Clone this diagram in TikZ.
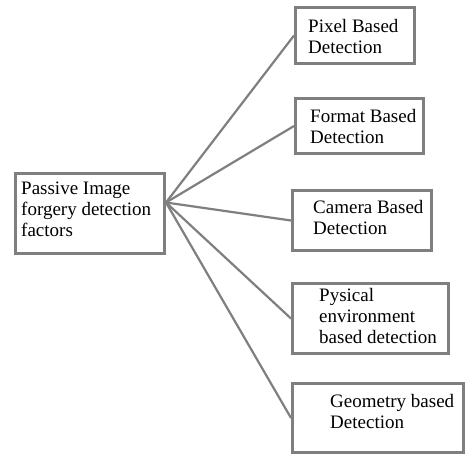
\documentclass[tikz,border=0pt]{standalone}
\usepackage{fontspec}
\setmainfont{Liberation Serif}
\definecolor{boxgray}{HTML}{7F7F7F}
\begin{document}
\begin{tikzpicture}[x=1pt,y=-1pt,
  box/.style={draw=boxgray, line width=3pt, inner sep=0pt, anchor=north west, fill=white},
  txt/.style={inner sep=0pt, anchor=north west, align=left, font=\fontsize{19}{21}\selectfont, text=black},
  link/.style={draw=boxgray, line width=2.2pt}]
\useasboundingbox (0,0) rectangle (474,474);
\node[box, minimum width=149pt, minimum height=80pt] (src) at (14,172) {};
\node[box, minimum width=119pt, minimum height=56pt] (pixel) at (294,6) {};
\node[box, minimum width=128pt, minimum height=55pt] (format) at (294,97) {};
\node[box, minimum width=139pt, minimum height=60pt] (camera) at (291,189) {};
\node[box, minimum width=156pt, minimum height=70pt] (phys) at (291,282) {};
\node[box, minimum width=171pt, minimum height=69pt] (geom) at (291,382) {};
\node[txt] (srct) at (21,182) {Passive Image\\forgery detection\\factors};
\node[txt] (pixelt) at (308,19) {Pixel Based\\Detection};
\node[txt] (formatt) at (310,109) {Format Based\\Detection};
\node[txt] (camerat) at (313,200) {Camera Based\\Detection};
\node[txt] (physt) at (319,288) {Pysical\\environment\\based detection};
\node[txt] (geomt) at (330,394) {Geometry based\\Detection};
\coordinate (hub) at ([yshift=11pt]src.east);
\foreach \t in {pixel,format,camera,phys,geom}
  \draw[link] (hub) -- (\t.west);
\end{tikzpicture}
\end{document}
